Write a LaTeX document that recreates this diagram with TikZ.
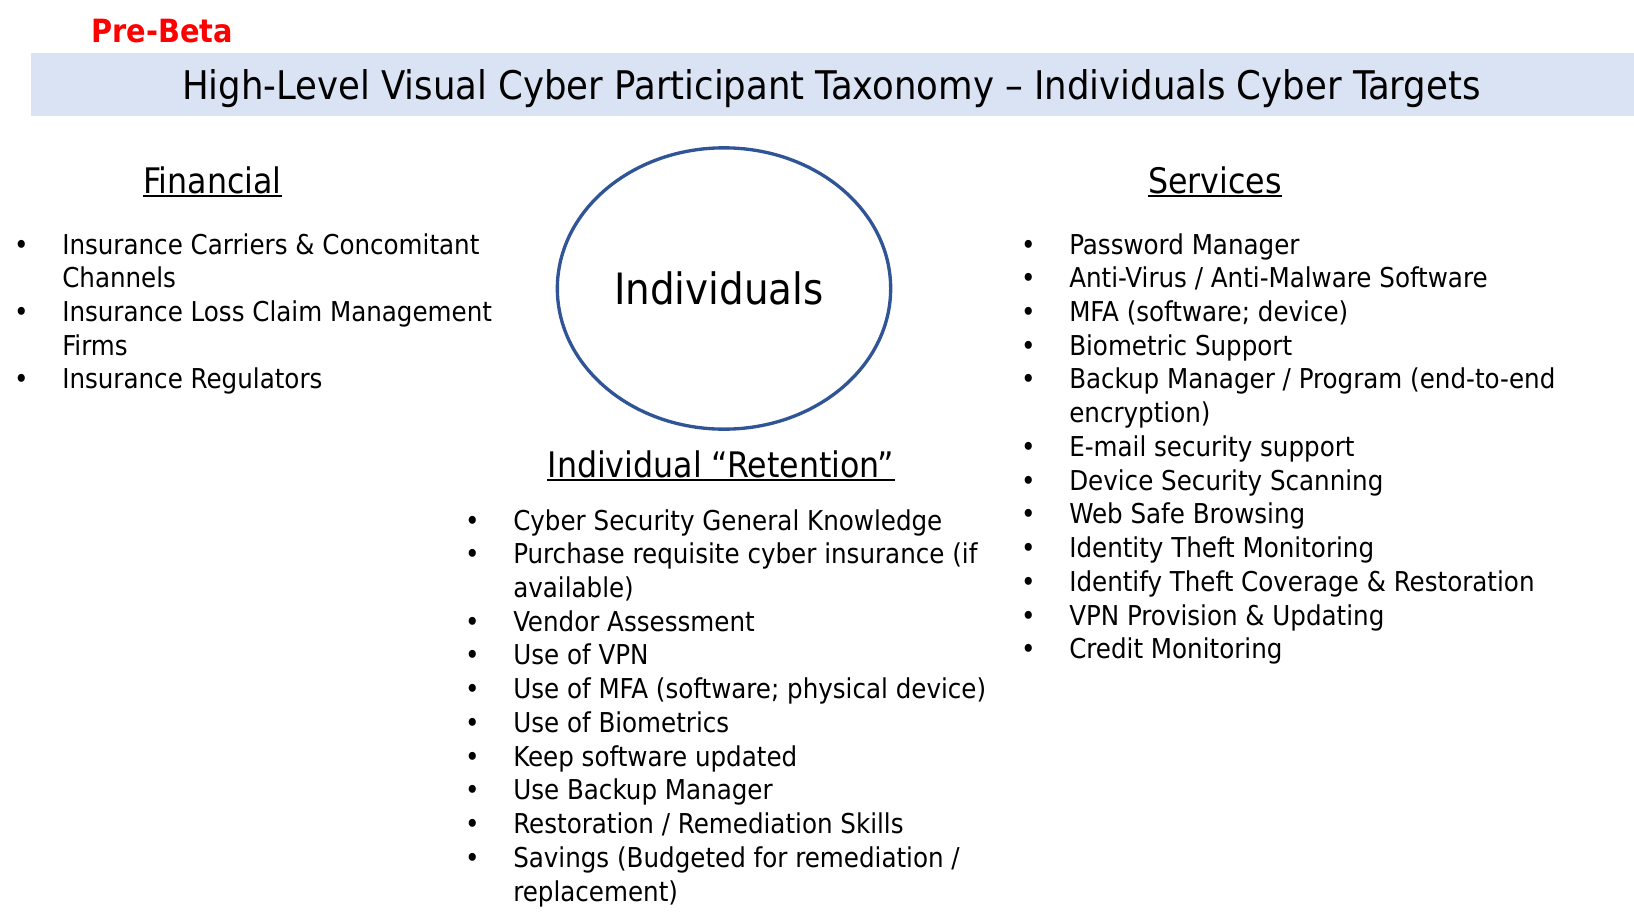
\documentclass[tikz,border=0pt]{standalone}
\usepackage{fontspec}
\setmainfont{DejaVu Sans Condensed}
\usetikzlibrary{shapes.geometric}
\definecolor{bandblue}{HTML}{DAE3F3}
\definecolor{ellblue}{HTML}{2F5597}
\definecolor{prered}{HTML}{FF0000}
\newcommand{\bul}{\makebox[30.75pt][l]{\makebox[0pt]{\textbullet}}}
\begin{document}
\begin{tikzpicture}[x=0.75pt,y=-0.75pt,
  heading/.style={anchor=base, inner sep=0pt, font=\fontsize{26.4}{32}\selectfont},
  listbox/.style={anchor=base west, inner sep=0pt, font=\fontsize{20.5}{25.3}\selectfont},
  ul/.style={line width=1.5pt},
  person/.style={ellipse, draw=ellblue, line width=2.5pt, minimum width=250pt, minimum height=211pt, inner sep=0pt}]
\useasboundingbox (0,0) rectangle (1634,924);
\fill[bandblue] (31,53) rectangle (1634,116);
\node[anchor=base west, inner sep=0pt, text=prered, font=\bfseries\fontsize{24}{28}\selectfont] (prebeta) at (91,43) {Pre-Beta};
\node[anchor=base, inner sep=0pt, font=\fontsize{29.6}{36}\selectfont] (title) at (831.5,99) {High-Level Visual Cyber Participant Taxonomy -- Individuals Cyber Targets};
\node[person] (ind) at (724,288.5) {};
\node[inner sep=0pt, font=\fontsize{32.4}{40}\selectfont] (indlabel) at (719,288) {Individuals};
% Financial
\node[heading] (fin) at (212.5,193) {Financial};
\draw[ul] ([yshift=-2.4pt]fin.base west) -- ([yshift=-2.4pt]fin.base east);
\node[listbox] (finlist) at (21,254) {\begin{tabular}[t]{@{}l@{}l@{}}
\bul & Insurance Carriers \& Concomitant\\
 & Channels\\
\bul & Insurance Loss Claim Management\\
 & Firms\\
\bul & Insurance Regulators
\end{tabular}};
% Services
\node[heading] (serv) at (1215,193) {Services};
\draw[ul] ([yshift=-2.4pt]serv.base west) -- ([yshift=-2.4pt]serv.base east);
\node[listbox] (servlist) at (1028,254) {\begin{tabular}[t]{@{}l@{}l@{}}
\bul & Password Manager\\
\bul & Anti-Virus / Anti-Malware Software\\
\bul & MFA (software; device)\\
\bul & Biometric Support\\
\bul & Backup Manager / Program (end-to-end\\
 & encryption)\\
\bul & E-mail security support\\
\bul & Device Security Scanning\\
\bul & Web Safe Browsing\\
\bul & Identity Theft Monitoring\\
\bul & Identify Theft Coverage \& Restoration\\
\bul & VPN Provision \& Updating\\
\bul & Credit Monitoring
\end{tabular}};
% Retention
\node[heading] (ret) at (721,477) {Individual “Retention”};
\draw[ul] ([yshift=-2.4pt]ret.base west) -- ([yshift=-2.4pt]ret.base east);
\node[listbox] (retlist) at (472,530) {\begin{tabular}[t]{@{}l@{}l@{}}
\bul & Cyber Security General Knowledge\\
\bul & Purchase requisite cyber insurance (if\\
 & available)\\
\bul & Vendor Assessment\\
\bul & Use of VPN\\
\bul & Use of MFA (software; physical device)\\
\bul & Use of Biometrics\\
\bul & Keep software updated\\
\bul & Use Backup Manager\\
\bul & Restoration / Remediation Skills\\
\bul & Savings (Budgeted for remediation /\\
 & replacement)
\end{tabular}};
\end{tikzpicture}
\end{document}
